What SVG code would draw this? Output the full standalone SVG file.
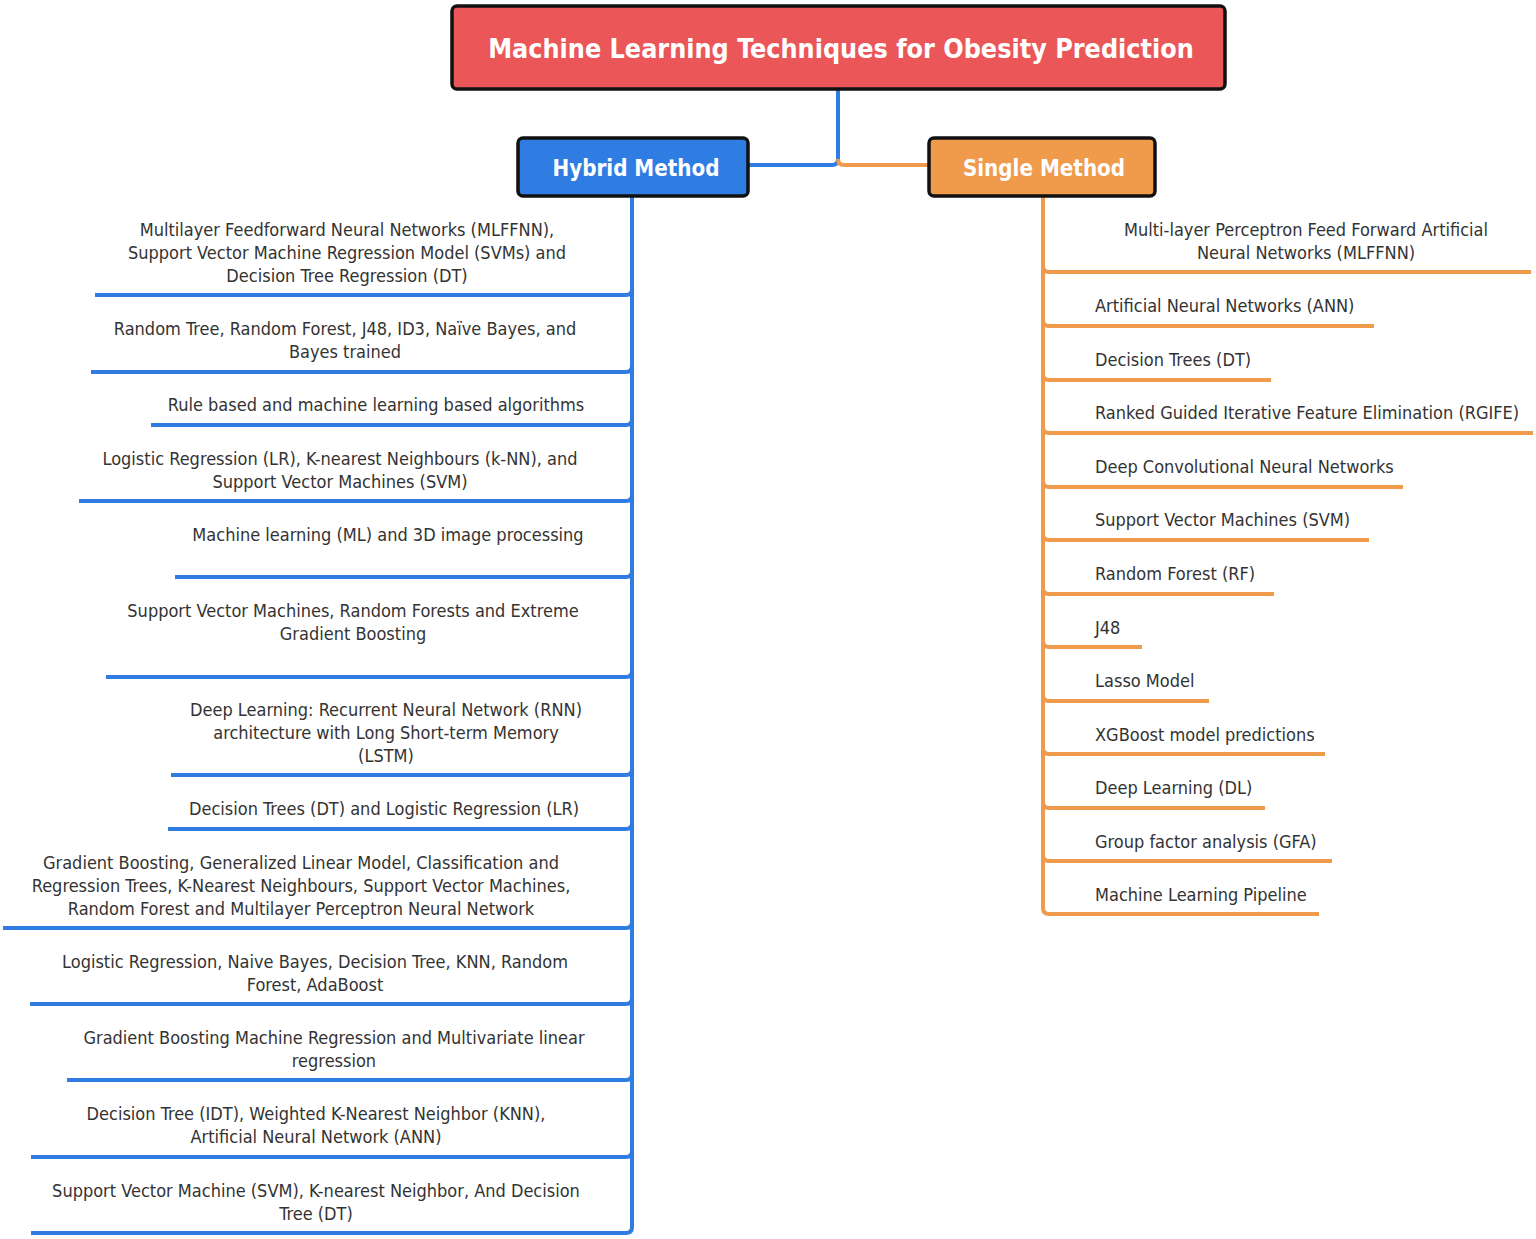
<svg xmlns="http://www.w3.org/2000/svg" width="1536" height="1239" viewBox="0 0 1536 1239">
<style>
.t{font-family:"DejaVu Sans Condensed","DejaVu Sans",sans-serif;font-size:18px;fill:#333}
.c{text-anchor:middle}
.h{font-family:"DejaVu Sans Condensed","DejaVu Sans",sans-serif;font-weight:bold;fill:#fff;text-anchor:middle}
.b{fill:none;stroke:#2F7DE3;stroke-width:4;stroke-linecap:butt}
.o{fill:none;stroke:#F09A4C;stroke-width:4;stroke-linecap:butt}
</style>
<rect width="1536" height="1239" fill="#fff"/>
<g id="connectors">
<path class="b" d="M838,90 V159 Q838,165 832,165 H749"/>
<path class="o" d="M838,159 Q838,165 844,165 H928"/>
<path class="b" d="M632,196 V1227 Q632,1233 626,1233 H31"/>
<path class="b" d="M632,289 Q632,295 626,295 H95"/>
<path class="b" d="M632,366 Q632,372 626,372 H91"/>
<path class="b" d="M632,419 Q632,425 626,425 H151"/>
<path class="b" d="M632,495 Q632,501 626,501 H79"/>
<path class="b" d="M632,571 Q632,577 626,577 H175"/>
<path class="b" d="M632,671 Q632,677 626,677 H106"/>
<path class="b" d="M632,769 Q632,775 626,775 H171"/>
<path class="b" d="M632,823 Q632,829 626,829 H168"/>
<path class="b" d="M632,922 Q632,928 626,928 H3"/>
<path class="b" d="M632,998 Q632,1004 626,1004 H30"/>
<path class="b" d="M632,1074 Q632,1080 626,1080 H67"/>
<path class="b" d="M632,1151 Q632,1157 626,1157 H31"/>
<path class="o" d="M1043,196 V908 Q1043,914 1049,914 H1319"/>
<path class="o" d="M1043,266 Q1043,272 1049,272 H1531"/>
<path class="o" d="M1043,320 Q1043,326 1049,326 H1374"/>
<path class="o" d="M1043,374 Q1043,380 1049,380 H1271"/>
<path class="o" d="M1043,427 Q1043,433 1049,433 H1533"/>
<path class="o" d="M1043,481 Q1043,487 1049,487 H1403"/>
<path class="o" d="M1043,534 Q1043,540 1049,540 H1369"/>
<path class="o" d="M1043,588 Q1043,594 1049,594 H1274"/>
<path class="o" d="M1043,641 Q1043,647 1049,647 H1142"/>
<path class="o" d="M1043,695 Q1043,701 1049,701 H1209"/>
<path class="o" d="M1043,748 Q1043,754 1049,754 H1325"/>
<path class="o" d="M1043,802 Q1043,808 1049,808 H1265"/>
<path class="o" d="M1043,855 Q1043,861 1049,861 H1332"/>
</g>
<g id="root">
<rect x="452" y="6" width="773" height="83" rx="5" fill="#EB5659" stroke="#111" stroke-width="3.5"/>
<text class="h" x="841" y="58" font-size="26.7">Machine Learning Techniques for Obesity Prediction</text>
</g>
<g id="hybrid">
<rect x="518" y="138" width="230" height="58" rx="5" fill="#2F7DE3" stroke="#111" stroke-width="3.5"/>
<text class="h" x="636" y="176" font-size="22.2">Hybrid Method</text>
</g>
<g id="single">
<rect x="929" y="138" width="226" height="58" rx="5" fill="#F09A4C" stroke="#111" stroke-width="3.5"/>
<text class="h" x="1044" y="176" font-size="22.2">Single Method</text>
</g>
<g id="h1"><text class="t c" x="347" y="236">Multilayer Feedforward Neural Networks (MLFFNN),<tspan x="347" dy="23">Support Vector Machine Regression Model (SVMs) and</tspan><tspan x="347" dy="23">Decision Tree Regression (DT)</tspan></text></g>
<g id="h2"><text class="t c" x="345" y="335">Random Tree, Random Forest, J48, ID3, Naïve Bayes, and<tspan x="345" dy="23">Bayes trained</tspan></text></g>
<g id="h3"><text class="t c" x="376" y="411">Rule based and machine learning based algorithms</text></g>
<g id="h4"><text class="t c" x="340" y="465">Logistic Regression (LR), K-nearest Neighbours (k-NN), and<tspan x="340" dy="23">Support Vector Machines (SVM)</tspan></text></g>
<g id="h5"><text class="t c" x="388" y="541">Machine learning (ML) and 3D image processing</text></g>
<g id="h6"><text class="t c" x="353" y="617">Support Vector Machines, Random Forests and Extreme<tspan x="353" dy="23">Gradient Boosting</tspan></text></g>
<g id="h7"><text class="t c" x="386" y="716">Deep Learning: Recurrent Neural Network (RNN)<tspan x="386" dy="23">architecture with Long Short-term Memory</tspan><tspan x="386" dy="23">(LSTM)</tspan></text></g>
<g id="h8"><text class="t c" x="384" y="815">Decision Trees (DT) and Logistic Regression (LR)</text></g>
<g id="h9"><text class="t c" x="301" y="869">Gradient Boosting, Generalized Linear Model, Classification and<tspan x="301" dy="23">Regression Trees, K-Nearest Neighbours, Support Vector Machines,</tspan><tspan x="301" dy="23">Random Forest and Multilayer Perceptron Neural Network</tspan></text></g>
<g id="h10"><text class="t c" x="315" y="968">Logistic Regression, Naive Bayes, Decision Tree, KNN, Random<tspan x="315" dy="23">Forest, AdaBoost</tspan></text></g>
<g id="h11"><text class="t c" x="334" y="1044">Gradient Boosting Machine Regression and Multivariate linear<tspan x="334" dy="23">regression</tspan></text></g>
<g id="h12"><text class="t c" x="316" y="1120">Decision Tree (IDT), Weighted K-Nearest Neighbor (KNN),<tspan x="316" dy="23">Artificial Neural Network (ANN)</tspan></text></g>
<g id="h13"><text class="t c" x="316" y="1197">Support Vector Machine (SVM), K-nearest Neighbor, And Decision<tspan x="316" dy="23">Tree (DT)</tspan></text></g>
<g id="s1"><text class="t c" x="1306" y="236">Multi-layer Perceptron Feed Forward Artificial<tspan x="1306" dy="23">Neural Networks (MLFFNN)</tspan></text></g>
<g id="s2"><text class="t" x="1095" y="312">Artificial Neural Networks (ANN)</text></g>
<g id="s3"><text class="t" x="1095" y="366">Decision Trees (DT)</text></g>
<g id="s4"><text class="t" x="1095" y="419">Ranked Guided Iterative Feature Elimination (RGIFE)</text></g>
<g id="s5"><text class="t" x="1095" y="473">Deep Convolutional Neural Networks</text></g>
<g id="s6"><text class="t" x="1095" y="526">Support Vector Machines (SVM)</text></g>
<g id="s7"><text class="t" x="1095" y="580">Random Forest (RF)</text></g>
<g id="s8"><text class="t" x="1095" y="634">J48</text></g>
<g id="s9"><text class="t" x="1095" y="687">Lasso Model</text></g>
<g id="s10"><text class="t" x="1095" y="741">XGBoost model predictions</text></g>
<g id="s11"><text class="t" x="1095" y="794">Deep Learning (DL)</text></g>
<g id="s12"><text class="t" x="1095" y="848">Group factor analysis (GFA)</text></g>
<g id="s13"><text class="t" x="1095" y="901">Machine Learning Pipeline</text></g>
</svg>
